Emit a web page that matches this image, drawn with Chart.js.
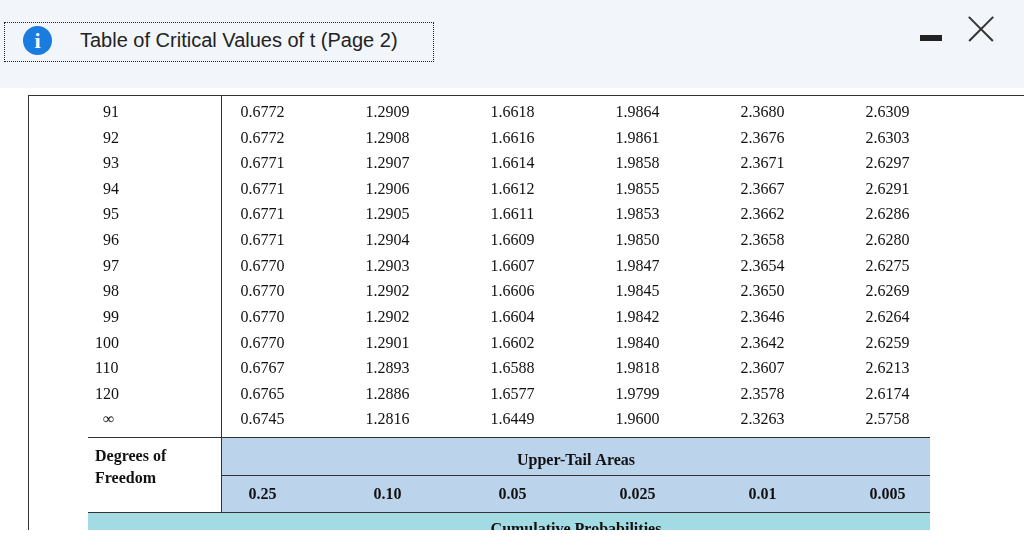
<!DOCTYPE html>
<html><head><meta charset="utf-8">
<script src="https://cdn.jsdelivr.net/npm/chart.js@4.4.1/dist/chart.umd.min.js"></script>
<style>
  html,body{margin:0;padding:0;width:1024px;height:538px;overflow:hidden;background:#fff;}
  #bar{position:absolute;left:0;top:0;width:1024px;height:88px;background:#f2f5fa;}
  #title{position:absolute;left:4px;top:22px;width:430px;height:40px;border:1px dotted #222;box-sizing:border-box;}
  #icon{position:absolute;left:23px;top:26px;width:29px;height:29px;border-radius:50%;background:#1a7be0;color:#fff;
        font:bold 22px 'Liberation Serif',serif;text-align:center;line-height:29px;}
  #ttext{position:absolute;left:80px;top:29px;font:20px 'Liberation Sans',Arial,sans-serif;color:#222;}
  #minus{position:absolute;left:920px;top:35px;width:22px;height:6px;background:#222;}
  .x{position:absolute;left:964px;top:28px;width:34px;height:1.5px;background:#333;}
  canvas{position:absolute;left:0;top:0;}
</style></head><body>
<canvas id="c" width="1024" height="538"></canvas>
<div id="bar"></div>
<div id="title"></div>
<div id="icon">i</div>
<div id="ttext">Table of Critical Values of t (Page 2)</div>
<div id="minus"></div>
<div class="x" style="transform:rotate(45deg)"></div>
<div class="x" style="transform:rotate(-45deg)"></div>
<script>
// ── Table data ─────────────────────────────────────────────
const tailAreas = ['0.25', '0.10', '0.05', '0.025', '0.01', '0.005'];
const degrees = ['91','92','93','94','95','96','97','98','99','100','110','120','∞'];
const col025  = ['0.6772','0.6772','0.6771','0.6771','0.6771','0.6771','0.6770','0.6770','0.6770','0.6770','0.6767','0.6765','0.6745'];
const col010  = ['1.2909','1.2908','1.2907','1.2906','1.2905','1.2904','1.2903','1.2902','1.2902','1.2901','1.2893','1.2886','1.2816'];
const col005  = ['1.6618','1.6616','1.6614','1.6612','1.6611','1.6609','1.6607','1.6606','1.6604','1.6602','1.6588','1.6577','1.6449'];
const col0025 = ['1.9864','1.9861','1.9858','1.9855','1.9853','1.9850','1.9847','1.9845','1.9842','1.9840','1.9818','1.9799','1.9600'];
const col001  = ['2.3680','2.3676','2.3671','2.3667','2.3662','2.3658','2.3654','2.3650','2.3646','2.3642','2.3607','2.3578','2.3263'];
const col0005 = ['2.6309','2.6303','2.6297','2.6291','2.6286','2.6280','2.6275','2.6269','2.6264','2.6259','2.6213','2.6174','2.5758'];
const columns = [col025, col010, col005, col0025, col001, col0005];

const serif = "'Liberation Serif', 'Times New Roman', serif";

const datasets = columns.map((col, i) => ({
  label: tailAreas[i],
  data: col.map((v, r) => ({ x: tailAreas[i], y: degrees[r], v })),
  pointRadius: 0, showLine: false
}));

const tablePlugin = {
  id: 'table',
  afterDatasetsDraw(chart) {
    const { ctx, scales: { x, y } } = chart;
    ctx.save();
    // frame lines
    ctx.strokeStyle = '#333'; ctx.lineWidth = 1;
    ctx.beginPath();
    ctx.moveTo(28, 95.5); ctx.lineTo(1024, 95.5);
    ctx.moveTo(28.5, 95); ctx.lineTo(28.5, 530);
    ctx.moveTo(221.5, 95); ctx.lineTo(221.5, 512);
    ctx.moveTo(88, 437.5); ctx.lineTo(930, 437.5);
    ctx.stroke();
    // header boxes
    ctx.fillStyle = '#bcd3ec'; ctx.fillRect(222, 438, 708, 74);
    ctx.fillStyle = '#a3dbe4'; ctx.fillRect(88, 512, 842, 18);
    ctx.strokeStyle = '#333';
    ctx.beginPath(); ctx.moveTo(222, 475.5); ctx.lineTo(930, 475.5);
    ctx.moveTo(88, 512.5); ctx.lineTo(930, 512.5); ctx.stroke();
    ctx.fillStyle = '#fff'; ctx.fillRect(0, 530, 1024, 8);

    // cells
    ctx.fillStyle = '#111';
    ctx.font = '16px ' + serif;
    ctx.textBaseline = 'middle';
    ctx.textAlign = 'left';
    degrees.forEach(d => ctx.fillText(d, d.length > 2 ? 95 : 103, y.getPixelForValue(d)));
    ctx.textAlign = 'center';
    chart.data.datasets.forEach((ds, i) => {
      chart.getDatasetMeta(i).data.forEach((pt, r) => ctx.fillText(ds.data[r].v, pt.x, pt.y));
    });
    // headers
    ctx.font = 'bold 16px ' + serif;
    ctx.textAlign = 'left';
    ctx.fillText('Degrees of', 95, 457);
    ctx.fillText('Freedom', 95, 479);
    ctx.textAlign = 'center';
    ctx.fillText('Upper-Tail Areas', 576, 461);
    tailAreas.forEach(t => ctx.fillText(t, x.getPixelForValue(t), 495));
    ctx.save();
    ctx.beginPath(); ctx.rect(0, 512, 1024, 18); ctx.clip();
    ctx.fillText('Cumulative Probabilities', 576, 530);
    ctx.restore();
    ctx.restore();
  }
};

new Chart(document.getElementById('c').getContext('2d'), {
  type: 'scatter',
  data: { datasets },
  options: {
    responsive: false, animation: false,
    layout: { padding: { left: 200, right: 74, top: 100, bottom: 105 } },
    plugins: { legend: { display: false }, tooltip: { enabled: false } },
    scales: {
      x: { type: 'category', labels: tailAreas, offset: true, display: false },
      y: { type: 'category', labels: degrees, offset: true, display: false }
    }
  },
  plugins: [tablePlugin]
});
</script>
</body></html>
